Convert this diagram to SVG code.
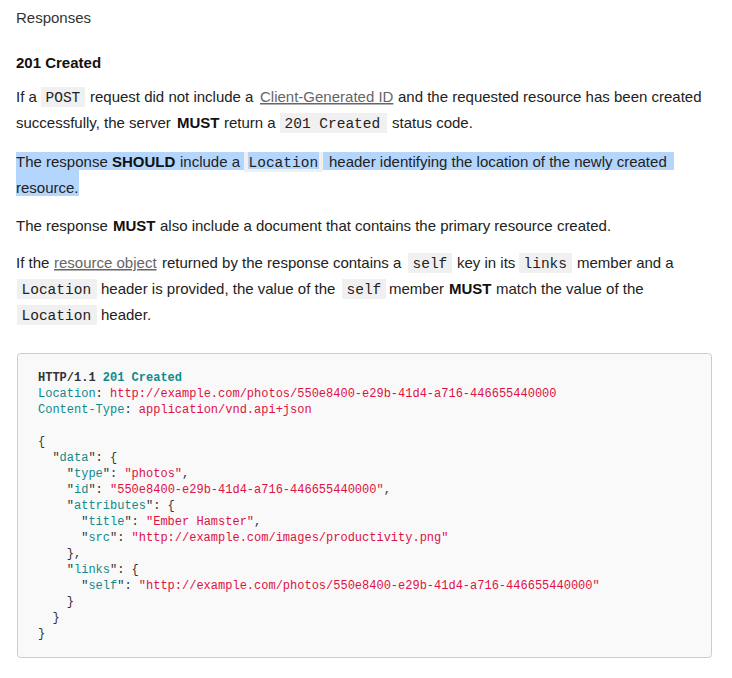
<svg xmlns="http://www.w3.org/2000/svg" width="732" height="678" viewBox="0 0 732 678">
<style>
.t{font-family:"Liberation Sans",Arial,Helvetica,sans-serif;font-size:15px;fill:#222}
.b{font-weight:bold;fill:#111}
.lk{fill:#666;text-decoration:underline}
.ic{font-family:"Liberation Mono","Courier New",monospace;font-size:14.5px;fill:#222}
.cb{fill:#f0f0f0}
.c{font-family:"Liberation Mono","Courier New",monospace;font-size:12px;fill:#333;white-space:pre}
.k{fill:#0f8a8c}
.s{fill:#dd1144}
.hb{font-weight:bold;fill:#333}
.hl{fill:#b4d6fc}
</style>
<rect width="732" height="678" fill="#ffffff"/>

<g id="heading">
<text class="t" x="16" y="23" style="fill:#333">Responses</text>
<text class="t b" x="16" y="68">201 Created</text>
</g>

<g id="para1">
<rect class="cb" x="41" y="87" width="44" height="20"/>
<rect class="cb" x="280" y="113" width="107" height="20"/>
<text class="t" x="16" y="102">If a</text>
<text class="ic" x="45.5" y="102">POST</text>
<text class="t" x="90" y="102">request did not include a</text>
<text class="t lk" x="260" y="102">Client-Generated ID</text>
<text class="t" x="398" y="102">and the requested resource has been created</text>
<text class="t" x="16" y="128">successfully, the server</text>
<text class="t b" x="177" y="128">MUST</text>
<text class="t" x="224" y="128">return a</text>
<text class="ic" x="284.5" y="128">201 Created</text>
<text class="t" x="392" y="128">status code.</text>
</g>

<g id="para2">
<rect class="hl" x="16" y="152" width="658" height="18"/>
<rect class="hl" x="16" y="170" width="63" height="26"/>
<rect class="cb" x="244" y="152" width="79" height="20"/>
<rect class="hl" x="248" y="152" width="71" height="17"/>
<text class="t" x="16" y="167">The response</text>
<text class="t b" x="112" y="167">SHOULD</text>
<text class="t" x="180" y="167">include a</text>
<text class="ic" x="248.5" y="167">Location</text>
<text class="t" x="329" y="167">header identifying the location of the newly created</text>
<text class="t" x="16" y="193">resource.</text>
</g>

<g id="para3">
<text class="t" x="16" y="231">The response</text>
<text class="t b" x="113" y="231">MUST</text>
<text class="t" x="160" y="231">also include a document that contains the primary resource created.</text>
</g>

<g id="para4">
<rect class="cb" x="408" y="253" width="44" height="20"/>
<rect class="cb" x="519" y="253" width="53" height="20"/>
<rect class="cb" x="17" y="279" width="80" height="20"/>
<rect class="cb" x="342" y="279" width="44" height="20"/>
<rect class="cb" x="17" y="305" width="80" height="20"/>
<text class="t" x="16" y="268">If the</text>
<text class="t lk" x="54" y="268">resource object</text>
<text class="t" x="162" y="268">returned by the response contains a</text>
<text class="ic" x="412.5" y="268">self</text>
<text class="t" x="457" y="268">key in its</text>
<text class="ic" x="523.5" y="268">links</text>
<text class="t" x="577" y="268">member and a</text>
<text class="ic" x="21.5" y="294">Location</text>
<text class="t" x="101" y="294">header is provided, the value of the</text>
<text class="ic" x="346.5" y="294">self</text>
<text class="t" x="389" y="294">member</text>
<text class="t b" x="449" y="294">MUST</text>
<text class="t" x="496" y="294">match the value of the</text>
<text class="ic" x="21.5" y="320">Location</text>
<text class="t" x="101" y="320">header.</text>
</g>

<g id="codeblock">
<rect x="17.5" y="353.5" width="694" height="304" rx="3" fill="#f9f9f9" stroke="#cccccc" stroke-width="1"/>
<text class="c" x="38" y="381"><tspan class="hb">HTTP/1.1</tspan> <tspan class="k" font-weight="bold">201 Created</tspan></text>
<text class="c" x="38" y="397"><tspan class="k">Location</tspan>: <tspan class="s">http://example.com/photos/550e8400-e29b-41d4-a716-446655440000</tspan></text>
<text class="c" x="38" y="413"><tspan class="k">Content-Type</tspan>: <tspan class="s">application/vnd.api+json</tspan></text>
<text class="c" x="38" y="445">{</text>
<text class="c" x="52.4" y="461">"<tspan class="k">data</tspan>": {</text>
<text class="c" x="66.8" y="477">"<tspan class="k">type</tspan>": <tspan class="s">"photos"</tspan>,</text>
<text class="c" x="66.8" y="493">"<tspan class="k">id</tspan>": <tspan class="s">"550e8400-e29b-41d4-a716-446655440000"</tspan>,</text>
<text class="c" x="66.8" y="509">"<tspan class="k">attributes</tspan>": {</text>
<text class="c" x="81.2" y="525">"<tspan class="k">title</tspan>": <tspan class="s">"Ember Hamster"</tspan>,</text>
<text class="c" x="81.2" y="541">"<tspan class="k">src</tspan>": <tspan class="s">"http://example.com/images/productivity.png"</tspan></text>
<text class="c" x="66.8" y="557">},</text>
<text class="c" x="66.8" y="573">"<tspan class="k">links</tspan>": {</text>
<text class="c" x="81.2" y="589">"<tspan class="k">self</tspan>": <tspan class="s">"http://example.com/photos/550e8400-e29b-41d4-a716-446655440000"</tspan></text>
<text class="c" x="66.8" y="605">}</text>
<text class="c" x="52.4" y="621">}</text>
<text class="c" x="38" y="637">}</text>
</g>
</svg>
